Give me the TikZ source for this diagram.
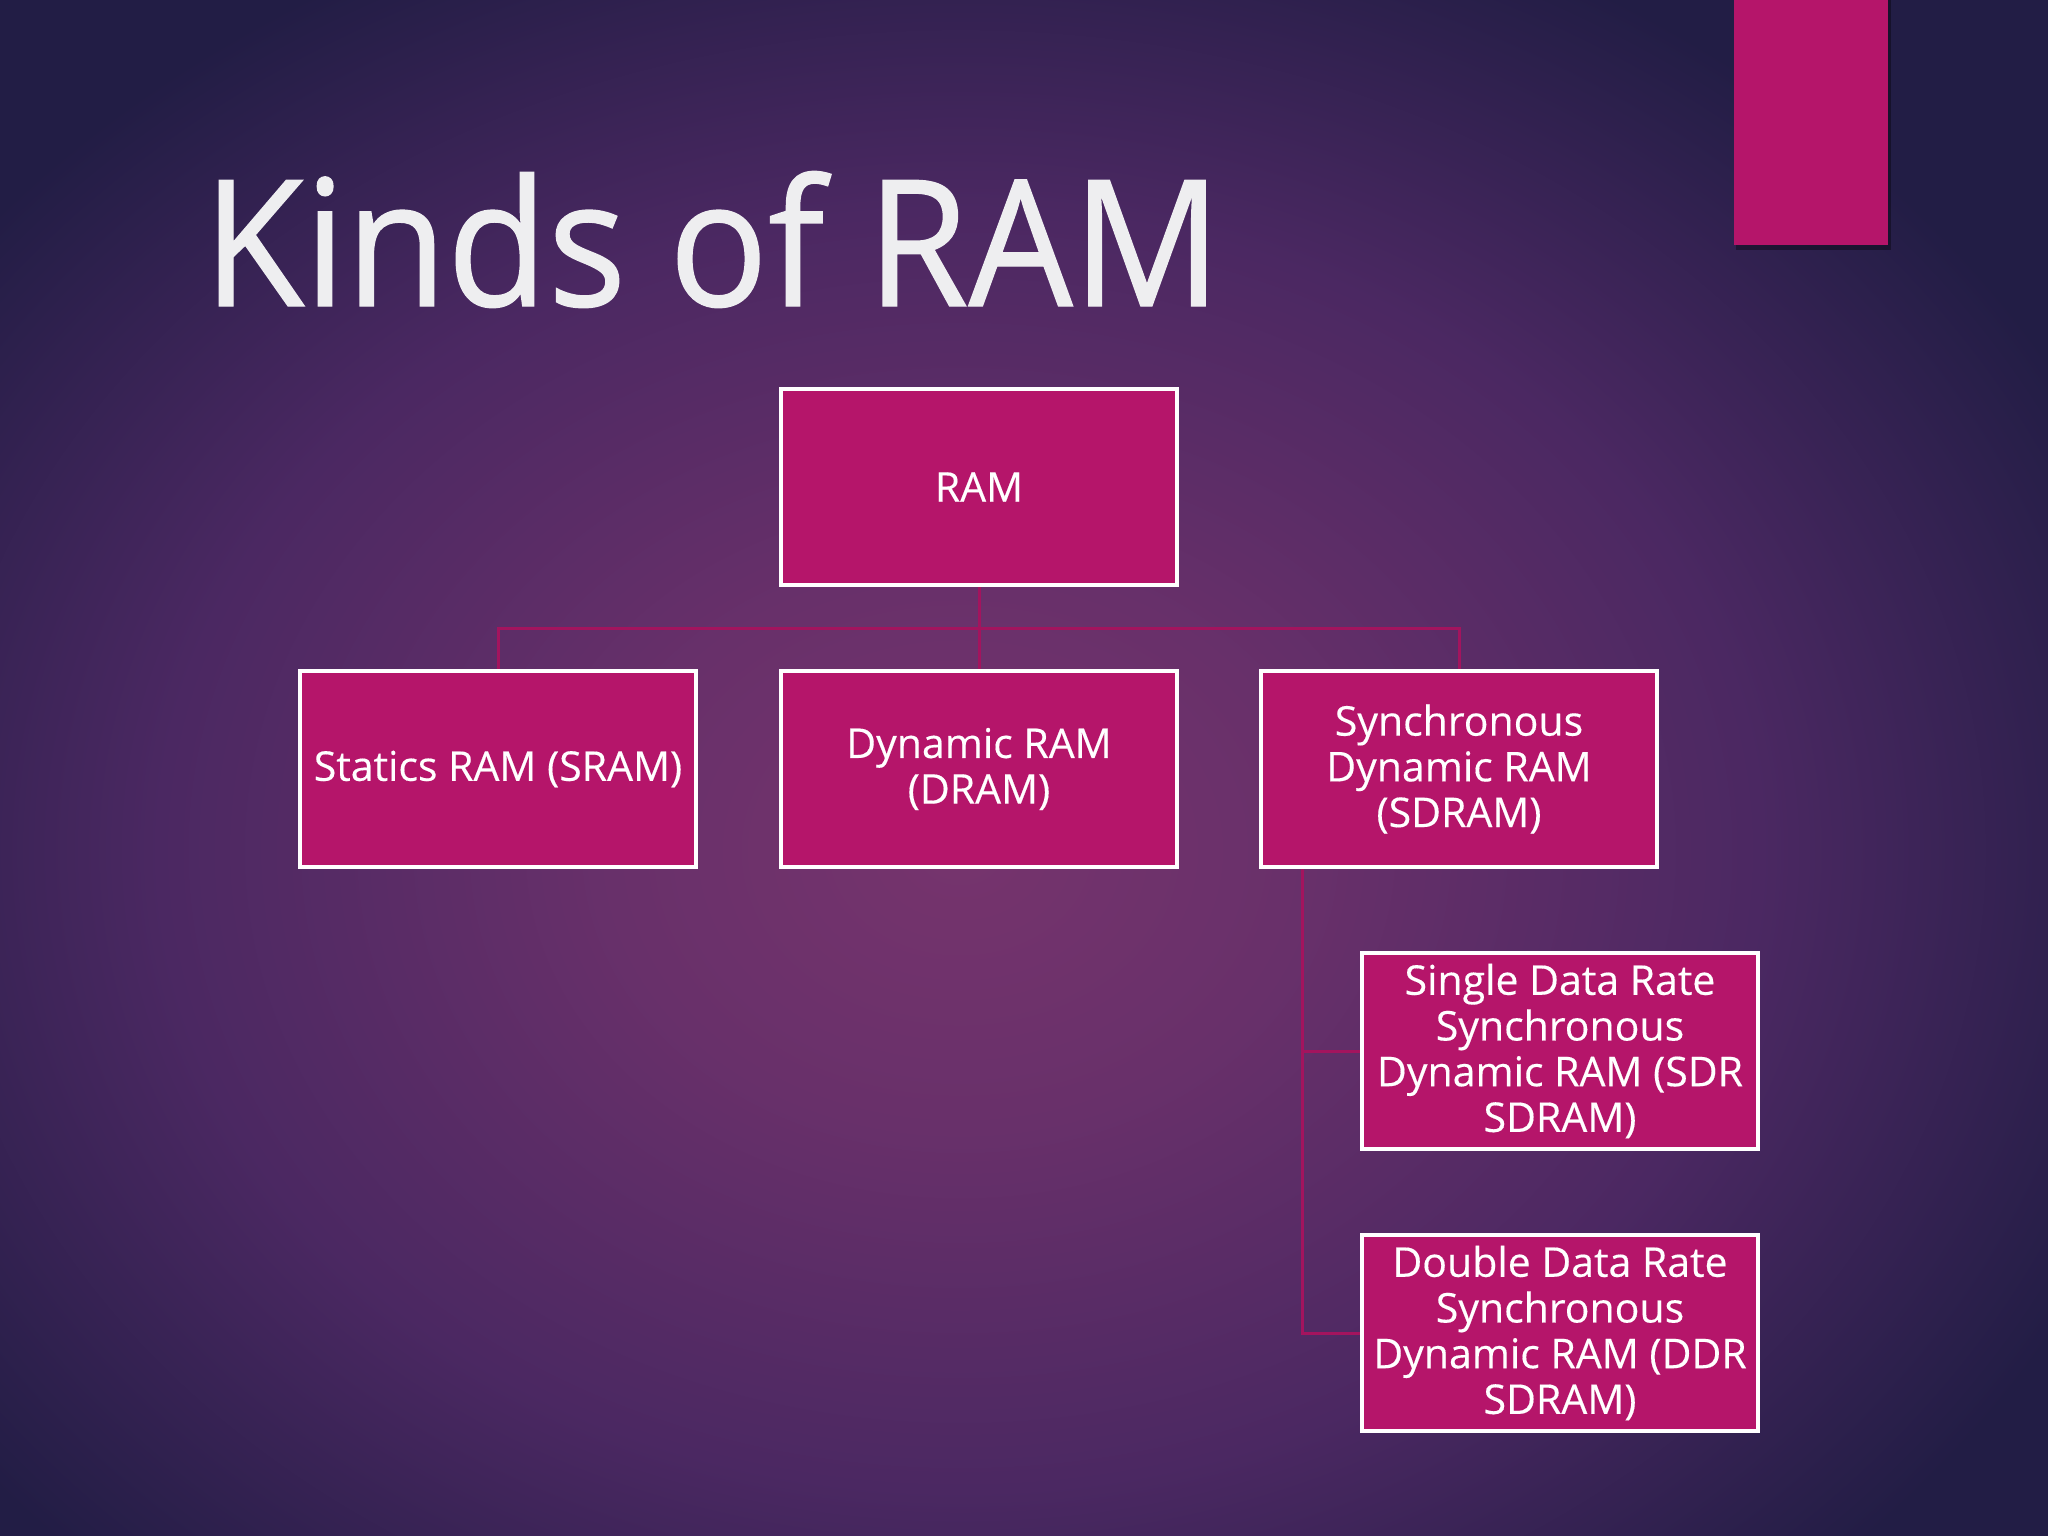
\documentclass[tikz,border=0pt]{standalone}
\usepackage{fontspec}
\setmainfont{Open Sans}
\newfontfamily\titlefont{Open Sans}[FakeBold=0.8]
\newfontfamily\boxfont{Open Sans}[FakeBold=0.3]
\usetikzlibrary{positioning}
\definecolor{navy}{HTML}{221D45}
\definecolor{bgc}{HTML}{76346D}
\definecolor{bgm}{HTML}{68306A}
\definecolor{bgo}{HTML}{4B2862}
\definecolor{magbox}{HTML}{B5156A}
\definecolor{lineclr}{HTML}{A3145E}
\definecolor{titleclr}{HTML}{EEEEF0}
\pgfdeclareradialshading{bgshade}{\pgfpoint{0bp}{0bp}}{color(0bp)=(bgc); color(7bp)=(bgm); color(16bp)=(bgo); color(25bp)=(navy); color(50bp)=(navy)}
\pgfdeclarelayer{bglayer}
\pgfdeclarelayer{linelayer}
\pgfsetlayers{bglayer,linelayer,main}
\tikzset{
  ebox/.style={draw=white, line width=4pt, fill=magbox, minimum width=396pt, minimum height=196pt,
    inner sep=0pt, text=white, align=center, font=\boxfont\fontsize{41}{45.7}\selectfont},
  conn/.style={draw=lineclr, line width=3pt}
}
\begin{document}
\begin{tikzpicture}[x=1pt,y=-1pt]
\useasboundingbox (0,0) rectangle (2048,1536);
\begin{pgfonlayer}{bglayer}
\begin{scope}
\clip (0,0) rectangle (2048,1536);
\fill[navy] (0,0) rectangle (2048,1536);
\shade[shading=bgshade] (960,850) ellipse [x radius=1250, y radius=1000];
% top-right accent bar with shadow
\fill[black, opacity=0.35] (1736,0) rectangle (1891,250);
\fill[magbox] (1734,-2) rectangle (1888,245);
\end{scope}
\end{pgfonlayer}

\node[anchor=base west, inner sep=0pt, text=titleclr, font=\titlefont\fontsize{176}{200}\selectfont] (title) at (203,306) {\scalebox{0.935}[1]{Kinds of RAM}};

\node[ebox] (ram) at (979,487) {RAM};
\node[ebox] (sram) at (498,769) {Statics RAM (SRAM)};
\node[ebox] (dram) at (979,769) {Dynamic RAM\\(DRAM)};
\node[ebox] (sdram) at (1459,769) {Synchronous\\Dynamic RAM\\(SDRAM)};
\node[ebox] (sdr) at (1560,1051) {Single Data Rate\\Synchronous\\Dynamic RAM (SDR\\SDRAM)};
\node[ebox] (ddr) at (1560,1333) {Double Data Rate\\Synchronous\\Dynamic RAM (DDR\\SDRAM)};

\coordinate (bus) at (979,628);
\coordinate (trunk) at (1302,869);
\begin{pgfonlayer}{linelayer}
\draw[conn] (ram.south) -- (dram.north);
\draw[conn] (sram.north) |- (bus) -| (sdram.north);
\draw[conn] (trunk) |- (sdr.west);
\draw[conn] (trunk) |- (ddr.west);
\end{pgfonlayer}
\end{tikzpicture}
\end{document}
